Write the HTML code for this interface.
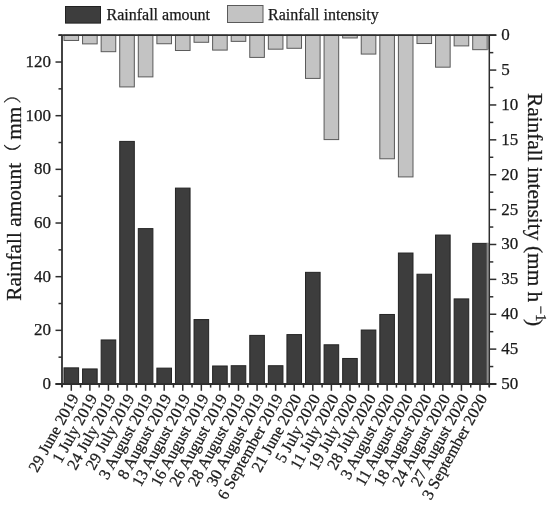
<!DOCTYPE html>
<html><head><meta charset="utf-8"><style>
html,body{margin:0;padding:0;background:#fff;}
body{width:550px;height:506px;overflow:hidden;}
svg{display:block;font-family:"Liberation Serif","Noto Serif CJK SC",serif;font-size:16px;fill:#1a1a1a;}
text{stroke:#1a1a1a;stroke-width:0.25px;}
</style></head><body>
<svg width="550" height="506" viewBox="0 0 550 506">
<rect x="63.99" y="35.20" width="14.60" height="5.26" fill="#c3c3c3" stroke="#5a5a5a" stroke-width="1"/>
<rect x="82.57" y="35.20" width="14.60" height="8.68" fill="#c3c3c3" stroke="#5a5a5a" stroke-width="1"/>
<rect x="101.15" y="35.20" width="14.60" height="16.49" fill="#c3c3c3" stroke="#5a5a5a" stroke-width="1"/>
<rect x="119.72" y="35.20" width="14.60" height="51.72" fill="#c3c3c3" stroke="#5a5a5a" stroke-width="1"/>
<rect x="138.30" y="35.20" width="14.60" height="41.68" fill="#c3c3c3" stroke="#5a5a5a" stroke-width="1"/>
<rect x="156.88" y="35.20" width="14.60" height="8.54" fill="#c3c3c3" stroke="#5a5a5a" stroke-width="1"/>
<rect x="175.46" y="35.20" width="14.60" height="15.31" fill="#c3c3c3" stroke="#5a5a5a" stroke-width="1"/>
<rect x="194.04" y="35.20" width="14.60" height="7.08" fill="#c3c3c3" stroke="#5a5a5a" stroke-width="1"/>
<rect x="212.62" y="35.20" width="14.60" height="14.89" fill="#c3c3c3" stroke="#5a5a5a" stroke-width="1"/>
<rect x="231.19" y="35.20" width="14.60" height="6.17" fill="#c3c3c3" stroke="#5a5a5a" stroke-width="1"/>
<rect x="249.77" y="35.20" width="14.60" height="22.21" fill="#c3c3c3" stroke="#5a5a5a" stroke-width="1"/>
<rect x="268.35" y="35.20" width="14.60" height="13.98" fill="#c3c3c3" stroke="#5a5a5a" stroke-width="1"/>
<rect x="286.93" y="35.20" width="14.60" height="13.08" fill="#c3c3c3" stroke="#5a5a5a" stroke-width="1"/>
<rect x="305.51" y="35.20" width="14.60" height="43.21" fill="#c3c3c3" stroke="#5a5a5a" stroke-width="1"/>
<rect x="324.08" y="35.20" width="14.60" height="104.39" fill="#c3c3c3" stroke="#5a5a5a" stroke-width="1"/>
<rect x="342.66" y="35.20" width="14.60" height="2.75" fill="#c3c3c3" stroke="#5a5a5a" stroke-width="1"/>
<rect x="361.24" y="35.20" width="14.60" height="18.87" fill="#c3c3c3" stroke="#5a5a5a" stroke-width="1"/>
<rect x="379.82" y="35.20" width="14.60" height="123.58" fill="#c3c3c3" stroke="#5a5a5a" stroke-width="1"/>
<rect x="398.40" y="35.20" width="14.60" height="141.71" fill="#c3c3c3" stroke="#5a5a5a" stroke-width="1"/>
<rect x="416.98" y="35.20" width="14.60" height="8.33" fill="#c3c3c3" stroke="#5a5a5a" stroke-width="1"/>
<rect x="435.55" y="35.20" width="14.60" height="31.98" fill="#c3c3c3" stroke="#5a5a5a" stroke-width="1"/>
<rect x="454.13" y="35.20" width="14.60" height="10.70" fill="#c3c3c3" stroke="#5a5a5a" stroke-width="1"/>
<rect x="472.71" y="35.20" width="14.60" height="14.47" fill="#c3c3c3" stroke="#5a5a5a" stroke-width="1"/>
<rect x="63.99" y="367.86" width="14.60" height="16.14" fill="#3d3d3d" stroke="#242424" stroke-width="1"/>
<rect x="82.57" y="368.94" width="14.60" height="15.06" fill="#3d3d3d" stroke="#242424" stroke-width="1"/>
<rect x="101.15" y="339.96" width="14.60" height="44.04" fill="#3d3d3d" stroke="#242424" stroke-width="1"/>
<rect x="119.72" y="141.41" width="14.60" height="242.59" fill="#3d3d3d" stroke="#242424" stroke-width="1"/>
<rect x="138.30" y="228.61" width="14.60" height="155.39" fill="#3d3d3d" stroke="#242424" stroke-width="1"/>
<rect x="156.88" y="368.13" width="14.60" height="15.87" fill="#3d3d3d" stroke="#242424" stroke-width="1"/>
<rect x="175.46" y="188.10" width="14.60" height="195.90" fill="#3d3d3d" stroke="#242424" stroke-width="1"/>
<rect x="194.04" y="319.57" width="14.60" height="64.43" fill="#3d3d3d" stroke="#242424" stroke-width="1"/>
<rect x="212.62" y="365.99" width="14.60" height="18.01" fill="#3d3d3d" stroke="#242424" stroke-width="1"/>
<rect x="231.19" y="365.72" width="14.60" height="18.28" fill="#3d3d3d" stroke="#242424" stroke-width="1"/>
<rect x="249.77" y="335.40" width="14.60" height="48.60" fill="#3d3d3d" stroke="#242424" stroke-width="1"/>
<rect x="268.35" y="365.72" width="14.60" height="18.28" fill="#3d3d3d" stroke="#242424" stroke-width="1"/>
<rect x="286.93" y="334.59" width="14.60" height="49.41" fill="#3d3d3d" stroke="#242424" stroke-width="1"/>
<rect x="305.51" y="272.35" width="14.60" height="111.65" fill="#3d3d3d" stroke="#242424" stroke-width="1"/>
<rect x="324.08" y="344.79" width="14.60" height="39.21" fill="#3d3d3d" stroke="#242424" stroke-width="1"/>
<rect x="342.66" y="358.47" width="14.60" height="25.53" fill="#3d3d3d" stroke="#242424" stroke-width="1"/>
<rect x="361.24" y="330.03" width="14.60" height="53.97" fill="#3d3d3d" stroke="#242424" stroke-width="1"/>
<rect x="379.82" y="314.47" width="14.60" height="69.53" fill="#3d3d3d" stroke="#242424" stroke-width="1"/>
<rect x="398.40" y="253.03" width="14.60" height="130.97" fill="#3d3d3d" stroke="#242424" stroke-width="1"/>
<rect x="416.98" y="274.23" width="14.60" height="109.77" fill="#3d3d3d" stroke="#242424" stroke-width="1"/>
<rect x="435.55" y="235.05" width="14.60" height="148.95" fill="#3d3d3d" stroke="#242424" stroke-width="1"/>
<rect x="454.13" y="298.91" width="14.60" height="85.09" fill="#3d3d3d" stroke="#242424" stroke-width="1"/>
<rect x="472.71" y="243.37" width="14.60" height="140.63" fill="#3d3d3d" stroke="#242424" stroke-width="1"/>
<rect x="486.6" y="35.20" width="2.2" height="14.37" fill="#8e8e8e"/>
<rect x="486.6" y="242.87" width="2.2" height="141.13" fill="#8a8a8a"/>
<line x1="58.5" y1="35.2" x2="496.3" y2="35.2" stroke="#2e2e2e" stroke-width="1.8"/>
<line x1="55.5" y1="384.0" x2="496.3" y2="384.0" stroke="#2e2e2e" stroke-width="1.8"/>
<line x1="62.0" y1="35.2" x2="62.0" y2="387.0" stroke="#2e2e2e" stroke-width="1.8"/>
<line x1="489.3" y1="35.2" x2="489.3" y2="387.0" stroke="#2e2e2e" stroke-width="1.5"/>
<line x1="55.5" y1="384.00" x2="62.0" y2="384.00" stroke="#2e2e2e" stroke-width="1.5"/>
<text x="51" y="389.00" text-anchor="end" font-size="17">0</text>
<line x1="58.5" y1="357.17" x2="62.0" y2="357.17" stroke="#2e2e2e" stroke-width="1.5"/>
<line x1="55.5" y1="330.34" x2="62.0" y2="330.34" stroke="#2e2e2e" stroke-width="1.5"/>
<text x="51" y="335.34" text-anchor="end" font-size="17">20</text>
<line x1="58.5" y1="303.51" x2="62.0" y2="303.51" stroke="#2e2e2e" stroke-width="1.5"/>
<line x1="55.5" y1="276.68" x2="62.0" y2="276.68" stroke="#2e2e2e" stroke-width="1.5"/>
<text x="51" y="281.68" text-anchor="end" font-size="17">40</text>
<line x1="58.5" y1="249.85" x2="62.0" y2="249.85" stroke="#2e2e2e" stroke-width="1.5"/>
<line x1="55.5" y1="223.02" x2="62.0" y2="223.02" stroke="#2e2e2e" stroke-width="1.5"/>
<text x="51" y="228.02" text-anchor="end" font-size="17">60</text>
<line x1="58.5" y1="196.18" x2="62.0" y2="196.18" stroke="#2e2e2e" stroke-width="1.5"/>
<line x1="55.5" y1="169.35" x2="62.0" y2="169.35" stroke="#2e2e2e" stroke-width="1.5"/>
<text x="51" y="174.35" text-anchor="end" font-size="17">80</text>
<line x1="58.5" y1="142.52" x2="62.0" y2="142.52" stroke="#2e2e2e" stroke-width="1.5"/>
<line x1="55.5" y1="115.69" x2="62.0" y2="115.69" stroke="#2e2e2e" stroke-width="1.5"/>
<text x="51" y="120.69" text-anchor="end" font-size="17">100</text>
<line x1="58.5" y1="88.86" x2="62.0" y2="88.86" stroke="#2e2e2e" stroke-width="1.5"/>
<line x1="55.5" y1="62.03" x2="62.0" y2="62.03" stroke="#2e2e2e" stroke-width="1.5"/>
<text x="51" y="67.03" text-anchor="end" font-size="17">120</text>
<line x1="58.5" y1="35.20" x2="62.0" y2="35.20" stroke="#2e2e2e" stroke-width="1.5"/>
<line x1="489.3" y1="35.20" x2="496.3" y2="35.20" stroke="#2e2e2e" stroke-width="1.5"/>
<text x="501.2" y="40.20" font-size="17">0</text>
<line x1="489.3" y1="52.64" x2="493.3" y2="52.64" stroke="#2e2e2e" stroke-width="1.5"/>
<line x1="489.3" y1="70.08" x2="496.3" y2="70.08" stroke="#2e2e2e" stroke-width="1.5"/>
<text x="501.2" y="75.08" font-size="17">5</text>
<line x1="489.3" y1="87.52" x2="493.3" y2="87.52" stroke="#2e2e2e" stroke-width="1.5"/>
<line x1="489.3" y1="104.96" x2="496.3" y2="104.96" stroke="#2e2e2e" stroke-width="1.5"/>
<text x="501.2" y="109.96" font-size="17">10</text>
<line x1="489.3" y1="122.40" x2="493.3" y2="122.40" stroke="#2e2e2e" stroke-width="1.5"/>
<line x1="489.3" y1="139.84" x2="496.3" y2="139.84" stroke="#2e2e2e" stroke-width="1.5"/>
<text x="501.2" y="144.84" font-size="17">15</text>
<line x1="489.3" y1="157.28" x2="493.3" y2="157.28" stroke="#2e2e2e" stroke-width="1.5"/>
<line x1="489.3" y1="174.72" x2="496.3" y2="174.72" stroke="#2e2e2e" stroke-width="1.5"/>
<text x="501.2" y="179.72" font-size="17">20</text>
<line x1="489.3" y1="192.16" x2="493.3" y2="192.16" stroke="#2e2e2e" stroke-width="1.5"/>
<line x1="489.3" y1="209.60" x2="496.3" y2="209.60" stroke="#2e2e2e" stroke-width="1.5"/>
<text x="501.2" y="214.60" font-size="17">25</text>
<line x1="489.3" y1="227.04" x2="493.3" y2="227.04" stroke="#2e2e2e" stroke-width="1.5"/>
<line x1="489.3" y1="244.48" x2="496.3" y2="244.48" stroke="#2e2e2e" stroke-width="1.5"/>
<text x="501.2" y="249.48" font-size="17">30</text>
<line x1="489.3" y1="261.92" x2="493.3" y2="261.92" stroke="#2e2e2e" stroke-width="1.5"/>
<line x1="489.3" y1="279.36" x2="496.3" y2="279.36" stroke="#2e2e2e" stroke-width="1.5"/>
<text x="501.2" y="284.36" font-size="17">35</text>
<line x1="489.3" y1="296.80" x2="493.3" y2="296.80" stroke="#2e2e2e" stroke-width="1.5"/>
<line x1="489.3" y1="314.24" x2="496.3" y2="314.24" stroke="#2e2e2e" stroke-width="1.5"/>
<text x="501.2" y="319.24" font-size="17">40</text>
<line x1="489.3" y1="331.68" x2="493.3" y2="331.68" stroke="#2e2e2e" stroke-width="1.5"/>
<line x1="489.3" y1="349.12" x2="496.3" y2="349.12" stroke="#2e2e2e" stroke-width="1.5"/>
<text x="501.2" y="354.12" font-size="17">45</text>
<line x1="489.3" y1="366.56" x2="493.3" y2="366.56" stroke="#2e2e2e" stroke-width="1.5"/>
<line x1="489.3" y1="384.00" x2="496.3" y2="384.00" stroke="#2e2e2e" stroke-width="1.5"/>
<text x="501.2" y="389.00" font-size="17">50</text>
<line x1="62.00" y1="384.0" x2="62.00" y2="387.6" stroke="#2e2e2e" stroke-width="1.5"/>
<line x1="80.58" y1="384.0" x2="80.58" y2="387.6" stroke="#2e2e2e" stroke-width="1.5"/>
<line x1="99.16" y1="384.0" x2="99.16" y2="387.6" stroke="#2e2e2e" stroke-width="1.5"/>
<line x1="117.73" y1="384.0" x2="117.73" y2="387.6" stroke="#2e2e2e" stroke-width="1.5"/>
<line x1="136.31" y1="384.0" x2="136.31" y2="387.6" stroke="#2e2e2e" stroke-width="1.5"/>
<line x1="154.89" y1="384.0" x2="154.89" y2="387.6" stroke="#2e2e2e" stroke-width="1.5"/>
<line x1="173.47" y1="384.0" x2="173.47" y2="387.6" stroke="#2e2e2e" stroke-width="1.5"/>
<line x1="192.05" y1="384.0" x2="192.05" y2="387.6" stroke="#2e2e2e" stroke-width="1.5"/>
<line x1="210.63" y1="384.0" x2="210.63" y2="387.6" stroke="#2e2e2e" stroke-width="1.5"/>
<line x1="229.20" y1="384.0" x2="229.20" y2="387.6" stroke="#2e2e2e" stroke-width="1.5"/>
<line x1="247.78" y1="384.0" x2="247.78" y2="387.6" stroke="#2e2e2e" stroke-width="1.5"/>
<line x1="266.36" y1="384.0" x2="266.36" y2="387.6" stroke="#2e2e2e" stroke-width="1.5"/>
<line x1="284.94" y1="384.0" x2="284.94" y2="387.6" stroke="#2e2e2e" stroke-width="1.5"/>
<line x1="303.52" y1="384.0" x2="303.52" y2="387.6" stroke="#2e2e2e" stroke-width="1.5"/>
<line x1="322.10" y1="384.0" x2="322.10" y2="387.6" stroke="#2e2e2e" stroke-width="1.5"/>
<line x1="340.67" y1="384.0" x2="340.67" y2="387.6" stroke="#2e2e2e" stroke-width="1.5"/>
<line x1="359.25" y1="384.0" x2="359.25" y2="387.6" stroke="#2e2e2e" stroke-width="1.5"/>
<line x1="377.83" y1="384.0" x2="377.83" y2="387.6" stroke="#2e2e2e" stroke-width="1.5"/>
<line x1="396.41" y1="384.0" x2="396.41" y2="387.6" stroke="#2e2e2e" stroke-width="1.5"/>
<line x1="414.99" y1="384.0" x2="414.99" y2="387.6" stroke="#2e2e2e" stroke-width="1.5"/>
<line x1="433.57" y1="384.0" x2="433.57" y2="387.6" stroke="#2e2e2e" stroke-width="1.5"/>
<line x1="452.14" y1="384.0" x2="452.14" y2="387.6" stroke="#2e2e2e" stroke-width="1.5"/>
<line x1="470.72" y1="384.0" x2="470.72" y2="387.6" stroke="#2e2e2e" stroke-width="1.5"/>
<line x1="489.30" y1="384.0" x2="489.30" y2="387.6" stroke="#2e2e2e" stroke-width="1.5"/>
<line x1="71.29" y1="384.0" x2="71.29" y2="390.8" stroke="#2e2e2e" stroke-width="1.5"/>
<text x="79.09" y="397.80" text-anchor="end" font-size="16.2" transform="rotate(-61 79.09 397.80)">29 June 2019</text>
<line x1="89.87" y1="384.0" x2="89.87" y2="390.8" stroke="#2e2e2e" stroke-width="1.5"/>
<text x="97.67" y="397.80" text-anchor="end" font-size="16.2" transform="rotate(-61 97.67 397.80)">1 July 2019</text>
<line x1="108.45" y1="384.0" x2="108.45" y2="390.8" stroke="#2e2e2e" stroke-width="1.5"/>
<text x="116.25" y="397.80" text-anchor="end" font-size="16.2" transform="rotate(-61 116.25 397.80)">24 July 2019</text>
<line x1="127.02" y1="384.0" x2="127.02" y2="390.8" stroke="#2e2e2e" stroke-width="1.5"/>
<text x="134.82" y="397.80" text-anchor="end" font-size="16.2" transform="rotate(-61 134.82 397.80)">29 July 2019</text>
<line x1="145.60" y1="384.0" x2="145.60" y2="390.8" stroke="#2e2e2e" stroke-width="1.5"/>
<text x="153.40" y="397.80" text-anchor="end" font-size="16.2" transform="rotate(-61 153.40 397.80)">3 August 2019</text>
<line x1="164.18" y1="384.0" x2="164.18" y2="390.8" stroke="#2e2e2e" stroke-width="1.5"/>
<text x="171.98" y="397.80" text-anchor="end" font-size="16.2" transform="rotate(-61 171.98 397.80)">8 August 2019</text>
<line x1="182.76" y1="384.0" x2="182.76" y2="390.8" stroke="#2e2e2e" stroke-width="1.5"/>
<text x="190.56" y="397.80" text-anchor="end" font-size="16.2" transform="rotate(-61 190.56 397.80)">13 August 2019</text>
<line x1="201.34" y1="384.0" x2="201.34" y2="390.8" stroke="#2e2e2e" stroke-width="1.5"/>
<text x="209.14" y="397.80" text-anchor="end" font-size="16.2" transform="rotate(-61 209.14 397.80)">16 August 2019</text>
<line x1="219.92" y1="384.0" x2="219.92" y2="390.8" stroke="#2e2e2e" stroke-width="1.5"/>
<text x="227.72" y="397.80" text-anchor="end" font-size="16.2" transform="rotate(-61 227.72 397.80)">26 August 2019</text>
<line x1="238.49" y1="384.0" x2="238.49" y2="390.8" stroke="#2e2e2e" stroke-width="1.5"/>
<text x="246.29" y="397.80" text-anchor="end" font-size="16.2" transform="rotate(-61 246.29 397.80)">28 August 2019</text>
<line x1="257.07" y1="384.0" x2="257.07" y2="390.8" stroke="#2e2e2e" stroke-width="1.5"/>
<text x="264.87" y="397.80" text-anchor="end" font-size="16.2" transform="rotate(-61 264.87 397.80)">30 August 2019</text>
<line x1="275.65" y1="384.0" x2="275.65" y2="390.8" stroke="#2e2e2e" stroke-width="1.5"/>
<text x="283.45" y="397.80" text-anchor="end" font-size="16.2" transform="rotate(-61 283.45 397.80)">6 September 2019</text>
<line x1="294.23" y1="384.0" x2="294.23" y2="390.8" stroke="#2e2e2e" stroke-width="1.5"/>
<text x="302.03" y="397.80" text-anchor="end" font-size="16.2" transform="rotate(-61 302.03 397.80)">21 June 2020</text>
<line x1="312.81" y1="384.0" x2="312.81" y2="390.8" stroke="#2e2e2e" stroke-width="1.5"/>
<text x="320.61" y="397.80" text-anchor="end" font-size="16.2" transform="rotate(-61 320.61 397.80)">5 July 2020</text>
<line x1="331.38" y1="384.0" x2="331.38" y2="390.8" stroke="#2e2e2e" stroke-width="1.5"/>
<text x="339.18" y="397.80" text-anchor="end" font-size="16.2" transform="rotate(-61 339.18 397.80)">11 July 2020</text>
<line x1="349.96" y1="384.0" x2="349.96" y2="390.8" stroke="#2e2e2e" stroke-width="1.5"/>
<text x="357.76" y="397.80" text-anchor="end" font-size="16.2" transform="rotate(-61 357.76 397.80)">19 July 2020</text>
<line x1="368.54" y1="384.0" x2="368.54" y2="390.8" stroke="#2e2e2e" stroke-width="1.5"/>
<text x="376.34" y="397.80" text-anchor="end" font-size="16.2" transform="rotate(-61 376.34 397.80)">28 July 2020</text>
<line x1="387.12" y1="384.0" x2="387.12" y2="390.8" stroke="#2e2e2e" stroke-width="1.5"/>
<text x="394.92" y="397.80" text-anchor="end" font-size="16.2" transform="rotate(-61 394.92 397.80)">3 August 2020</text>
<line x1="405.70" y1="384.0" x2="405.70" y2="390.8" stroke="#2e2e2e" stroke-width="1.5"/>
<text x="413.50" y="397.80" text-anchor="end" font-size="16.2" transform="rotate(-61 413.50 397.80)">11 August 2020</text>
<line x1="424.28" y1="384.0" x2="424.28" y2="390.8" stroke="#2e2e2e" stroke-width="1.5"/>
<text x="432.08" y="397.80" text-anchor="end" font-size="16.2" transform="rotate(-61 432.08 397.80)">18 August 2020</text>
<line x1="442.85" y1="384.0" x2="442.85" y2="390.8" stroke="#2e2e2e" stroke-width="1.5"/>
<text x="450.65" y="397.80" text-anchor="end" font-size="16.2" transform="rotate(-61 450.65 397.80)">24 August 2020</text>
<line x1="461.43" y1="384.0" x2="461.43" y2="390.8" stroke="#2e2e2e" stroke-width="1.5"/>
<text x="469.23" y="397.80" text-anchor="end" font-size="16.2" transform="rotate(-61 469.23 397.80)">27 August 2020</text>
<line x1="480.01" y1="384.0" x2="480.01" y2="390.8" stroke="#2e2e2e" stroke-width="1.5"/>
<text x="487.81" y="397.80" text-anchor="end" font-size="16.2" transform="rotate(-61 487.81 397.80)">3 September 2020</text>
<rect x="65.5" y="6.5" width="35" height="16.6" fill="#3d3d3d" stroke="#222" stroke-width="1"/>
<text x="106.5" y="20">Rainfall amount</text>
<rect x="227.5" y="5.5" width="35.5" height="17" fill="#c3c3c3" stroke="#5a5a5a" stroke-width="1"/>
<text x="268" y="20">Rainfall intensity</text>
<text transform="translate(21 300.8) rotate(-90)" x="0.00" y="0" font-size="21.3">Rainfall</text>
<text transform="translate(21 300.8) rotate(-90)" x="74.00" y="0" font-size="21.3">amount</text>
<text transform="translate(21 300.8) rotate(-90)" x="139.50" y="-2.3" font-size="17.5" font-family="Liberation Serif, Noto Serif CJK SC, serif">（</text>
<text transform="translate(21 300.8) rotate(-90)" x="161.00" y="0" font-size="21.3">mm</text>
<text transform="translate(21 300.8) rotate(-90)" x="197.20" y="-2.3" font-size="17.5" font-family="Liberation Serif, Noto Serif CJK SC, serif">）</text>
<text transform="translate(527.5 93.0) rotate(90)" x="0.00" y="0" font-size="21.3">Rainfall</text>
<text transform="translate(527.5 93.0) rotate(90)" x="74.00" y="0" font-size="21.3">intensity</text>
<text transform="translate(527.5 93.0) rotate(90)" x="153.00" y="0" font-size="21.3">(mm h</text>
<text transform="translate(527.5 93.0) rotate(90)" x="212.50" y="-8.5" font-size="15">−1</text>
<text transform="translate(527.5 93.0) rotate(90)" x="226.00" y="0" font-size="21.3">)</text>
</svg>
</body></html>
